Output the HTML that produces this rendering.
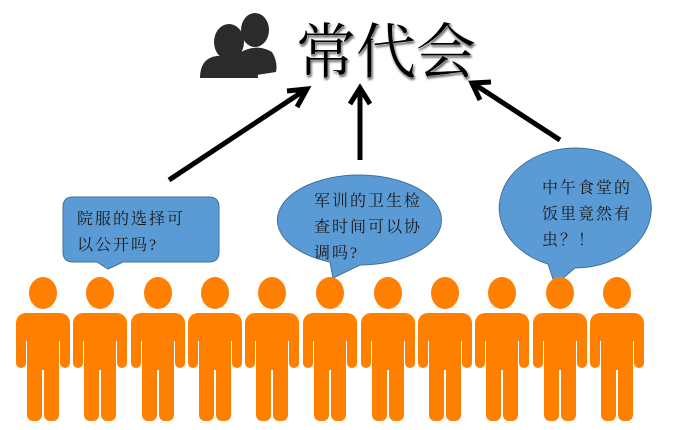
<!DOCTYPE html>
<html><head><meta charset="utf-8"><style>
html,body{margin:0;padding:0;background:#fff;width:679px;height:430px;overflow:hidden}
svg{display:block}
text{font-family:"Liberation Serif","Noto Serif CJK SC","Noto Sans CJK SC",serif}
</style></head><body>
<svg width="679" height="430" viewBox="0 0 679 430" xmlns="http://www.w3.org/2000/svg">
<defs>
<g id="p" fill="#ff7f00">
<ellipse cx="0" cy="293" rx="14" ry="16"/>
<rect x="-27" y="313" width="54" height="28" rx="10"/>
<rect x="-27" y="320" width="10" height="48" rx="5"/>
<rect x="17" y="320" width="10" height="48" rx="5"/>
<rect x="-16" y="320" width="32" height="50"/>
<rect x="-16" y="355" width="15" height="66" rx="6"/>
<rect x="1" y="355" width="15" height="66" rx="6"/>
</g>
<marker id="ah" markerWidth="10" markerHeight="10" refX="8" refY="5" orient="auto" markerUnits="userSpaceOnUse" viewBox="0 0 10 10">
</marker>
</defs>
<!-- icon -->
<g fill="#2b2b2b">
<ellipse cx="255" cy="30" rx="14" ry="17"/>
<path d="M236 55 Q255 42 272 52 Q278 62 276 72 L250 76 Z"/>
<ellipse cx="229" cy="42" rx="15" ry="18"/>
<path d="M200 78 Q200 58 217 56 L242 56 Q258 60 258 78 Z"/>
</g>
<text x="296" y="73" font-size="60" fill="#000" stroke="#fff" stroke-width="0.6" style="paint-order:stroke;filter:drop-shadow(1px 2px 1px #666)">常代会</text>
<!-- arrows -->
<g stroke="#000" stroke-width="5" fill="none" stroke-linecap="butt">
<line x1="169" y1="180" x2="305" y2="90"/>
<polyline points="287,91 307,89 297,107"/>
<line x1="360" y1="160" x2="360" y2="89"/>
<polyline points="350,104 360,88 370,104"/>
<line x1="560" y1="140" x2="474" y2="84"/>
<polyline points="491,82 472,83 480,100"/>
</g>
<!-- bubbles -->
<path d="M73 197 H209 Q219 197 219 207 V252 Q219 262 209 262 H123 L108 269 L97 262 H73 Q63 262 63 252 V207 Q63 197 73 197 Z" fill="#5b9bd5" stroke="#41719c" stroke-width="1"/>
<path d="M330 262 A82 45 0 1 1 360 265 L333 278 Z" fill="#5b9bd5" stroke="#41719c" stroke-width="1"/>
<path d="M548 264 A76 60 0 1 1 575 268 L555 285 Z" fill="#5b9bd5" stroke="#41719c" stroke-width="1"/>
<g font-size="16" fill="#1a1a1a" letter-spacing="2">
<text x="77" y="224">院服的选择可</text>
<text x="77" y="250">以公开吗?</text>
<text x="314" y="206">军训的卫生检</text>
<text x="314" y="232">查时间可以协</text>
<text x="314" y="258">调吗?</text>
<text x="542" y="193">中午食堂的</text>
<text x="542" y="219">饭里竟然有</text>
<text x="542" y="245">虫？！</text>
</g>
<!-- people -->
<use href="#p" x="43"/><use href="#p" x="100"/><use href="#p" x="158"/><use href="#p" x="215"/>
<use href="#p" x="272"/><use href="#p" x="330"/><use href="#p" x="388"/><use href="#p" x="445"/>
<use href="#p" x="502"/><use href="#p" x="560"/><use href="#p" x="617"/>
</svg>
</body></html>
